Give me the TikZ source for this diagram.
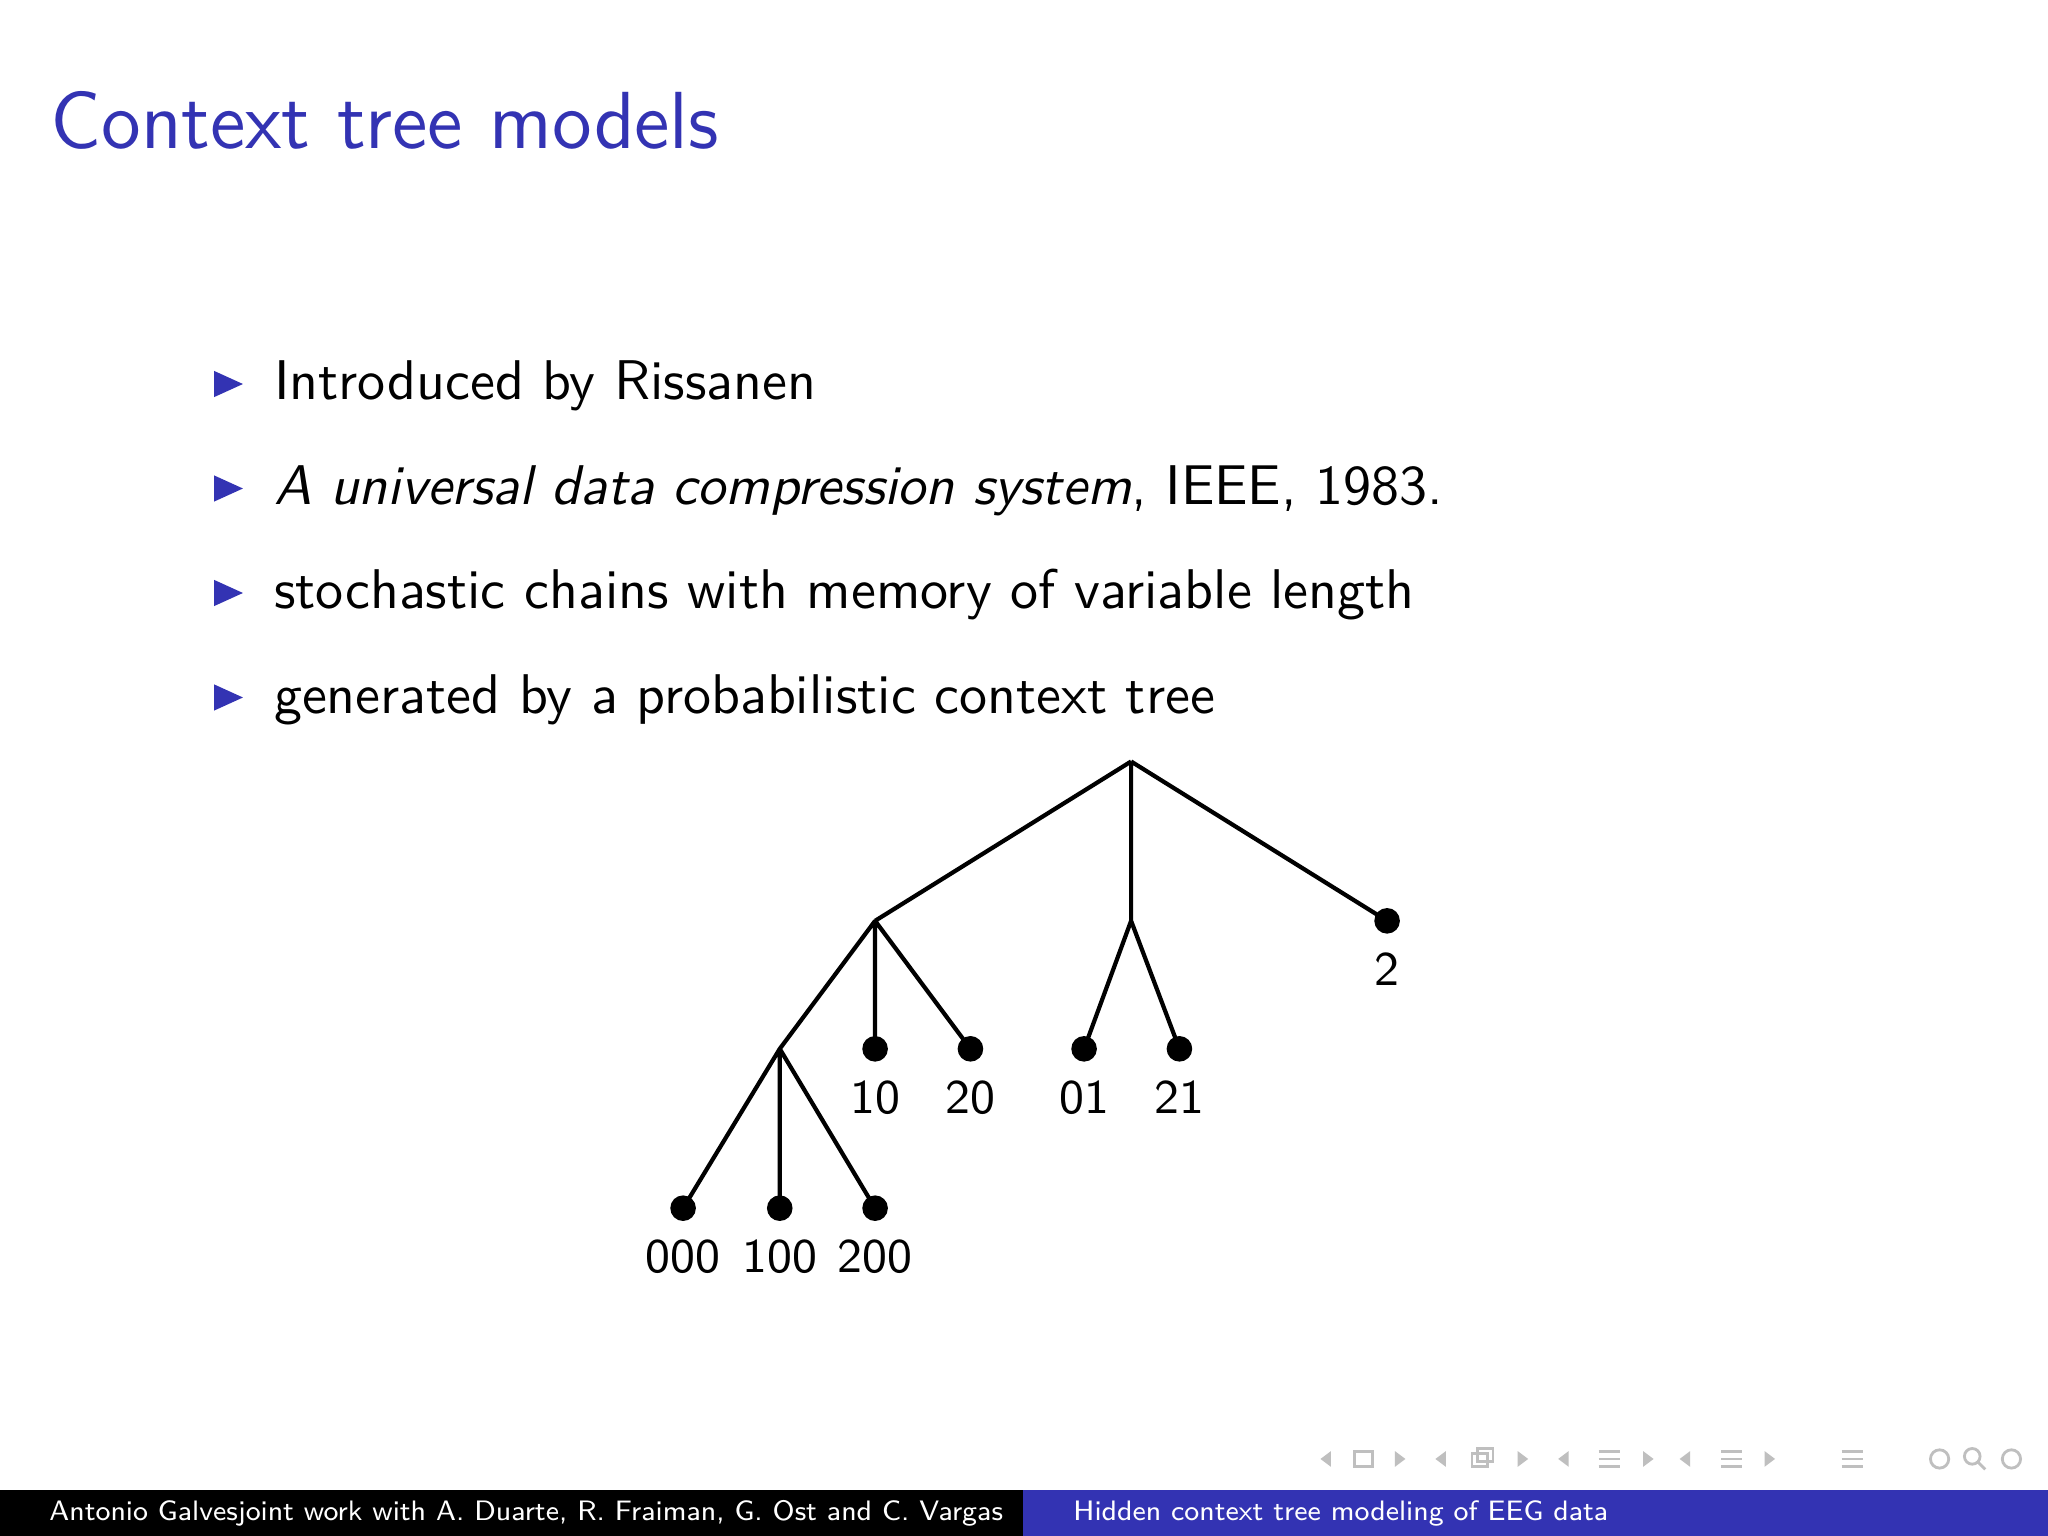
\documentclass[tikz,border=0pt]{standalone}
\usepackage{amssymb}
\begin{document}
\begin{tikzpicture}[x=0.08163mm,y=-0.08163mm,font=\sffamily\fontsize{9.95}{12}\selectfont,
  edge/.style={line width=0.75pt},
  leaf/.style={circle,fill=black,inner sep=0pt,minimum size=1.6mm},
  inner/.style={inner sep=0pt,minimum size=0pt},
  lab/.style={font=\sffamily\fontsize{8.6}{10}\selectfont},
  bul/.style={anchor=base west,inner sep=0pt}]
\definecolor{bblue}{RGB}{51,51,179}
\useasboundingbox (0,0) rectangle (1568,1176);
\fill[white] (0,0) rectangle (1568,1176);
\node[anchor=base west,inner sep=0pt,text=bblue,font=\sffamily\fontsize{14.4}{16}\selectfont] (title) at (38,114) {Context tree models};
\foreach \y/\t [count=\i] in {306/{Introduced by Rissanen},386/{\textit{A universal data compression system}, IEEE, 1983.},466/{stochastic chains with memory of variable length},546/{generated by a probabilistic context tree}}{
  \node[bul] (b\i) at (209,\y) {\t};
  \fill[bblue] (164,\y-22) -- (186,\y-12) -- (164,\y-2) -- cycle;
}
% tree
\node[inner] (r) at (866,583) {};
\node[inner] (a) at (670,705) {};
\node[inner] (b) at (866,705) {};
\node[leaf] (l2) at (1062,705) {};
\node[inner] (c) at (597,803) {};
\node[leaf] (l10) at (670,803) {};
\node[leaf] (l20) at (743,803) {};
\node[leaf] (l01) at (830,803) {};
\node[leaf] (l21) at (903,803) {};
\node[leaf] (l000) at (523,925) {};
\node[leaf] (l100) at (597,925) {};
\node[leaf] (l200) at (670,925) {};
\draw[edge] (r.center)--(a.center) (r.center)--(b.center) (r.center)--(l2.center)
 (a.center)--(c.center) (a.center)--(l10.center) (a.center)--(l20.center)
 (b.center)--(l01.center) (b.center)--(l21.center)
 (c.center)--(l000.center) (c.center)--(l100.center) (c.center)--(l200.center);
\foreach \n/\t in {l2/2,l10/10,l20/20,l01/01,l21/21,l000/000,l100/100,l200/200}
  \node[lab,below=0.75mm] at (\n) {\t};
% footer
\fill[black] (0,1141) rectangle (783,1176);
\fill[bblue] (783,1141) rectangle (1568,1176);
\node[text=white,font=\sffamily\fontsize{5}{6}\selectfont,anchor=west,inner sep=0pt] (fl) at (37,1159) {Antonio Galvesjoint work with A. Duarte, R. Fraiman, G. Ost and C. Vargas};
\node[text=white,font=\sffamily\fontsize{5}{6}\selectfont,anchor=west,inner sep=0pt] (fr) at (821,1159) {Hidden context tree modeling of EEG data};
% navigation symbols (approx)
\begin{scope}[gray!50,line width=0.5pt]
\foreach \x in {1015,1103,1197,1290}{\fill (\x+4,1111)--(\x-4,1117)--(\x+4,1123)--cycle;}
\foreach \x in {1072,1166,1262,1355}{\fill (\x-4,1111)--(\x+4,1117)--(\x-4,1123)--cycle;}
\draw (1037,1111) rectangle (1051,1123);
\draw (1127,1113) rectangle (1139,1123) (1131,1109) rectangle (1143,1119);
\foreach \x in {1232,1326,1418}{\draw (\x-8,1111)--(\x+8,1111) (\x-8,1117)--(\x+8,1117) (\x-8,1123)--(\x+8,1123);}
\draw (1485,1117) circle (7);
\draw (1510,1115) circle (6) (1514,1119)--(1520,1125);
\draw (1540,1117) circle (7);
\end{scope}
\end{tikzpicture}
\end{document}
